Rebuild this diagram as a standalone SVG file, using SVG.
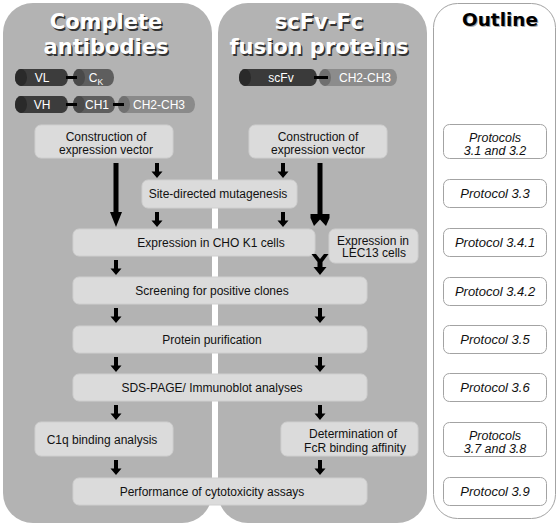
<svg xmlns="http://www.w3.org/2000/svg" xmlns:xlink="http://www.w3.org/1999/xlink" width="560" height="526" viewBox="0 0 560 526">
<style>
.panel{fill:#b3b3b3}
.box{fill:#dbdbdb;stroke:#cfcfcf;stroke-width:1}
.t{font-family:"Liberation Sans",Arial,sans-serif;font-size:12px;fill:#111;text-anchor:middle}
.pt{font-family:"Liberation Sans",Arial,sans-serif;font-size:12px;fill:#fff;text-anchor:middle}
.ob{fill:#fff;stroke:#a3a3a3;stroke-width:1}
.ot{font-family:"Liberation Sans",Arial,sans-serif;font-size:13px;font-style:italic;fill:#111;text-anchor:middle}
.ot2{font-size:12.5px}
.hd{font-family:"DejaVu Sans",sans-serif;font-weight:bold;font-size:21px;text-anchor:middle}
.ho{font-size:18.5px}
.hw{fill:#fff}
.hs{fill:#333}
.arr{fill:#000}
.lnk{stroke:#000;stroke-width:3}
</style>
<defs>
<path id="sa" d="M-2,0 H2 V8.5 H5.5 L0,15 L-5.5,8.5 H-2 Z"/>
</defs>
<rect width="560" height="526" fill="#fff"/>
<g id="panel-complete">
<rect class="panel" x="3" y="3" width="209" height="520" rx="30"/>
<text class="hd hs" x="107.5" y="30.5">Complete</text>
<text class="hd hw" x="106" y="29">Complete</text>
<text class="hd hs" x="107.5" y="55.5">antibodies</text>
<text class="hd hw" x="106" y="54">antibodies</text>
</g>
<g id="panel-scfv">
<rect class="panel" x="218" y="3" width="209" height="520" rx="30"/>
<text class="hd hs" x="320.5" y="30.5">scFv-Fc</text>
<text class="hd hw" x="319" y="29">scFv-Fc</text>
<text class="hd hs" x="320.5" y="55.5">fusion proteins</text>
<text class="hd hw" x="319" y="54">fusion proteins</text>
</g>
<g id="panel-outline">
<rect class="ob" x="433.5" y="3.5" width="122" height="515" rx="24"/>
<text class="hd ho" x="501" y="27" fill="#aaa">Outline</text>
<text class="hd ho" x="500" y="26" fill="#000">Outline</text>
</g>
<g id="domains-light">
<rect x="15" y="69" width="53" height="17" rx="6" ry="8.5" fill="#3c3c3c"/>
<ellipse cx="21" cy="77.5" rx="6" ry="8.5" fill="#2a2a2a"/>
<text class="pt" x="42" y="82">VL</text>
<rect x="73" y="69" width="41" height="17" rx="6" ry="8.5" fill="#5e5e5e"/>
<ellipse cx="79" cy="77.5" rx="6" ry="8.5" fill="#4a4a4a"/>
<line class="lnk" x1="66" y1="77.5" x2="77" y2="77.5"/>
<text class="pt" x="96" y="82">C<tspan font-size="8.5" dy="2.5">K</tspan></text>
</g>
<g id="domains-heavy">
<rect x="15" y="96" width="53" height="17" rx="6" ry="8.5" fill="#3c3c3c"/>
<ellipse cx="21" cy="104.5" rx="6" ry="8.5" fill="#2a2a2a"/>
<text class="pt" x="42" y="109">VH</text>
<rect x="73" y="96" width="42" height="17" rx="6" ry="8.5" fill="#5e5e5e"/>
<ellipse cx="79" cy="104.5" rx="6" ry="8.5" fill="#4a4a4a"/>
<rect x="118" y="96" width="77" height="17" rx="6" ry="8.5" fill="#8a8a8a"/>
<ellipse cx="124" cy="104.5" rx="6" ry="8.5" fill="#717171"/>
<line class="lnk" x1="66" y1="104.5" x2="77" y2="104.5"/>
<line class="lnk" x1="113" y1="104.5" x2="124" y2="104.5"/>
<text class="pt" x="97" y="109">CH1</text>
<text class="pt" x="159" y="109" fill="#eee">CH2-CH3</text>
</g>
<g id="domains-scfv">
<rect x="239" y="69" width="78" height="17" rx="6" ry="8.5" fill="#3a3a3a"/>
<ellipse cx="245" cy="77.5" rx="6" ry="8.5" fill="#2a2a2a"/>
<rect x="319" y="69" width="78" height="17" rx="6" ry="8.5" fill="#8c8c8c"/>
<ellipse cx="325" cy="77.5" rx="6" ry="8.5" fill="#6f6f6f"/>
<line class="lnk" x1="314" y1="77.5" x2="328" y2="77.5"/>
<text class="pt" x="281" y="82">scFv</text>
<text class="pt" x="365" y="82" fill="#eee">CH2-CH3</text>
</g>
<g id="n-construct-a">
<rect class="box" x="35" y="125" width="138" height="33" rx="6"/>
<text class="t" x="106" y="141">Construction of</text>
<text class="t" x="106" y="154">expression vector</text>
</g>
<g id="n-construct-b">
<rect class="box" x="249" y="125" width="138" height="33" rx="6"/>
<text class="t" x="318" y="141">Construction of</text>
<text class="t" x="318" y="154">expression vector</text>
</g>
<g id="n-mutagenesis">
<rect class="box" x="142" y="180" width="155" height="28" rx="6"/>
<text class="t" x="218" y="198">Site-directed mutagenesis</text>
</g>
<g id="n-cho">
<rect class="box" x="73" y="229" width="242" height="27" rx="6"/>
<text class="t" x="211" y="246.5">Expression in CHO K1 cells</text>
</g>
<g id="n-lec13">
<rect class="box" x="329" y="229" width="89" height="34" rx="6"/>
<text class="t" x="373" y="244.5">Expression in</text>
<text class="t" x="374" y="257">LEC13 cells</text>
</g>
<g id="n-screening">
<rect class="box" x="73" y="277" width="294" height="27" rx="6"/>
<text class="t" x="212" y="295">Screening for positive clones</text>
</g>
<g id="n-purification">
<rect class="box" x="73" y="326" width="294" height="27" rx="6"/>
<text class="t" x="212" y="344">Protein purification</text>
</g>
<g id="n-sds">
<rect class="box" x="73" y="374" width="294" height="27" rx="6"/>
<text class="t" x="212" y="392">SDS-PAGE/ Immunoblot analyses</text>
</g>
<g id="n-c1q">
<rect class="box" x="35" y="422" width="138" height="34" rx="6"/>
<text class="t" x="102" y="444">C1q binding analysis</text>
</g>
<g id="n-fcr">
<rect class="box" x="281" y="422" width="137" height="34" rx="6"/>
<text class="t" x="353" y="437.5">Determination of</text>
<text class="t" x="355" y="451.5">FcR binding affinity</text>
</g>
<g id="n-cytotox">
<rect class="box" x="73" y="478" width="294" height="27" rx="6"/>
<text class="t" x="212" y="496">Performance of cytotoxicity assays</text>
</g>
<g id="outline-protocols">
<g id="p-31"><rect class="ob" x="443.5" y="124.5" width="103" height="34" rx="6"/><text class="ot ot2" x="495" y="141.5">Protocols</text><text class="ot ot2" x="495" y="155">3.1 and 3.2</text></g>
<g id="p-33"><rect class="ob" x="443.5" y="179.5" width="103" height="28" rx="6"/><text class="ot" x="495" y="198">Protocol 3.3</text></g>
<g id="p-341"><rect class="ob" x="443.5" y="228.5" width="103" height="28" rx="6"/><text class="ot" x="495" y="247">Protocol 3.4.1</text></g>
<g id="p-342"><rect class="ob" x="443.5" y="277.5" width="103" height="28" rx="6"/><text class="ot" x="495" y="296">Protocol 3.4.2</text></g>
<g id="p-35"><rect class="ob" x="443.5" y="325.5" width="103" height="28" rx="6"/><text class="ot" x="495" y="344">Protocol 3.5</text></g>
<g id="p-36"><rect class="ob" x="443.5" y="373.5" width="103" height="28" rx="6"/><text class="ot" x="495" y="392">Protocol 3.6</text></g>
<g id="p-37"><rect class="ob" x="443.5" y="422.5" width="103" height="34" rx="6"/><text class="ot ot2" x="495" y="439.5">Protocols</text><text class="ot ot2" x="495" y="453">3.7 and 3.8</text></g>
<g id="p-39"><rect class="ob" x="443.5" y="477.5" width="103" height="28" rx="6"/><text class="ot" x="495" y="496">Protocol 3.9</text></g>
</g>
<g id="connectors" class="arr">
<path d="M113.5,163 H118.5 V212 H122 L116,227 L110,212 H113.5 Z"/>
<use xlink:href="#sa" href="#sa" x="157" y="163"/>
<use xlink:href="#sa" href="#sa" x="157" y="212"/>
<use xlink:href="#sa" href="#sa" x="283" y="163"/>
<use xlink:href="#sa" href="#sa" x="283" y="212"/>
<path d="M317.5,163 H322.5 V214 H329.5 V218 L326,226 L320,219.5 L314,226 L310.5,218 V214 H317.5 Z"/>
<path d="M311.5,254 H316 L320,259 L324,254 H328.5 L322.5,262 V267 H326.5 L320,275 L313.5,267 H317.5 V262 Z"/>
<use xlink:href="#sa" href="#sa" x="116" y="260"/>
<use xlink:href="#sa" href="#sa" x="116" y="308"/>
<use xlink:href="#sa" href="#sa" x="116" y="357"/>
<use xlink:href="#sa" href="#sa" x="116" y="405"/>
<use xlink:href="#sa" href="#sa" x="116" y="460"/>
<use xlink:href="#sa" href="#sa" x="320" y="308"/>
<use xlink:href="#sa" href="#sa" x="320" y="357"/>
<use xlink:href="#sa" href="#sa" x="320" y="405"/>
<use xlink:href="#sa" href="#sa" x="320" y="460"/>
</g>
</svg>
